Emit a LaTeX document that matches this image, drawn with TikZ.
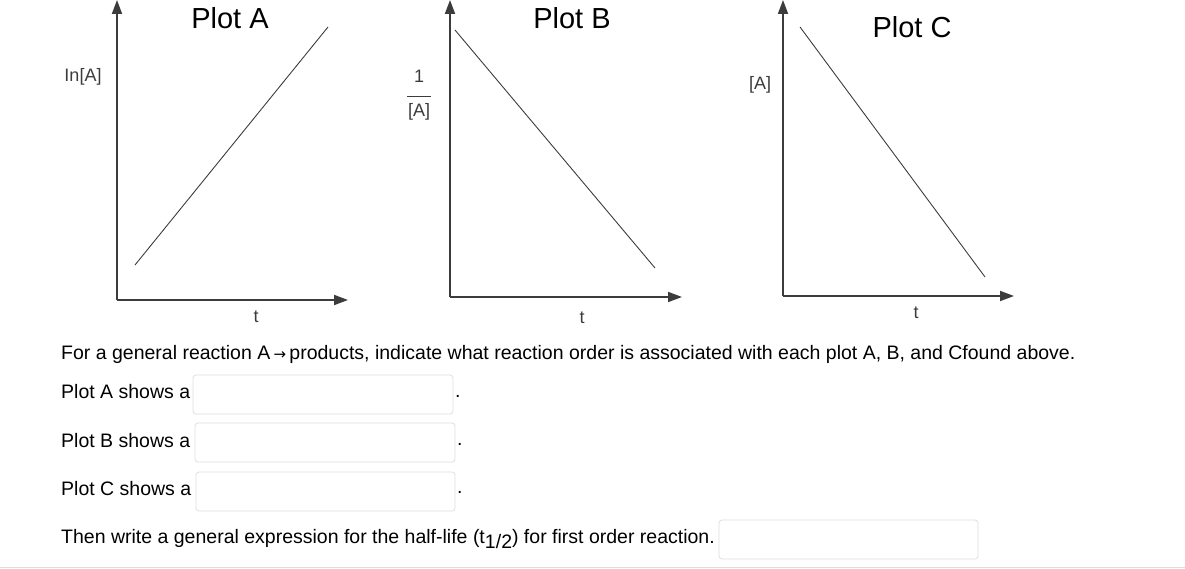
\documentclass[tikz,border=0pt]{standalone}
\usepackage{fontspec}
\setmainfont{Liberation Sans}
\usetikzlibrary{arrows.meta}
\definecolor{boxc}{RGB}{222,222,222}
\definecolor{axc}{RGB}{60,60,60}
\tikzset{
 ax/.style={draw=axc,line width=1.8pt,-{Triangle[length=14pt,width=10pt]}},
 ln/.style={draw=axc,line width=0.9pt},
 ttl/.style={font=\fontsize{29}{32}\selectfont},
 lab/.style={font=\fontsize{18}{20}\selectfont,text=axc},
 txt/.style={font=\fontsize{19.5}{22}\selectfont,anchor=west,inner sep=0pt},
 inbox/.style={draw=boxc,line width=0.8pt,rounded corners=3pt}
}
\begin{document}
\begin{tikzpicture}[x=1pt,y=-1pt]
\useasboundingbox (0,0) rectangle (1185,569);
% Plot A
\coordinate (oa) at (117,300);
\draw[ax] (oa) -- (117,0);
\draw[ax] (oa) -- (348,300);
\draw[ln] (135,265) -- (328,27);
\node[ttl] (ta) at (230,18) {Plot A};
\node[lab] (ya) at (83,77) {In[A]};
\node[lab] (xa) at (256,317) {t};
% Plot B
\coordinate (ob) at (450,297);
\draw[ax] (ob) -- (450,0);
\draw[ax] (ob) -- (682,297);
\draw[ln] (455,30) -- (655,268);
\node[ttl] (tb) at (572,18) {Plot B};
\node[lab] (yb1) at (419,76) {1};
\draw[axc,line width=0.8pt] (407,96) -- (431,96);
\node[lab] (yb2) at (419,112) {[A]};
\node[lab] (xb) at (582,318) {t};
% Plot C
\coordinate (oc) at (783,296);
\draw[ax] (oc) -- (783,0);
\draw[ax] (oc) -- (1014,296);
\draw[ln] (800,27) -- (985,277);
\node[ttl] (tc) at (912,27) {Plot C};
\node[lab] (yc) at (760,85) {[A]};
\node[lab] (xc) at (916,313) {t};
% text
\node[txt] (q) at (61,354) {For a general reaction A\,{\fontspec{DejaVu Sans}\fontsize{15}{18}\selectfont →}\,products, indicate what reaction order is associated with each plot A, B, and Cfound above.};
\node[txt] (pa) at (61,392) {Plot A shows a};
\draw[inbox] (193,375) rectangle (453,414);
\node[txt] (da) at (455,396) {.};
\node[txt] (pb) at (61,441) {Plot B shows a};
\draw[inbox] (195,423) rectangle (455,462);
\node[txt] (db) at (457,444) {.};
\node[txt] (pc) at (61,489) {Plot C shows a};
\draw[inbox] (196,472) rectangle (455,511);
\node[txt] (dc) at (457,492) {.};
\node[txt] (hl) at (61,539) {Then write a general expression for the half-life (t\raisebox{-5pt}{1/2}) for first order reaction.};
\draw[inbox] (719,520) rectangle (978,559);
\draw[boxc,line width=1.5pt] (0,567.5) -- (1185,567.5);
\end{tikzpicture}
\end{document}
